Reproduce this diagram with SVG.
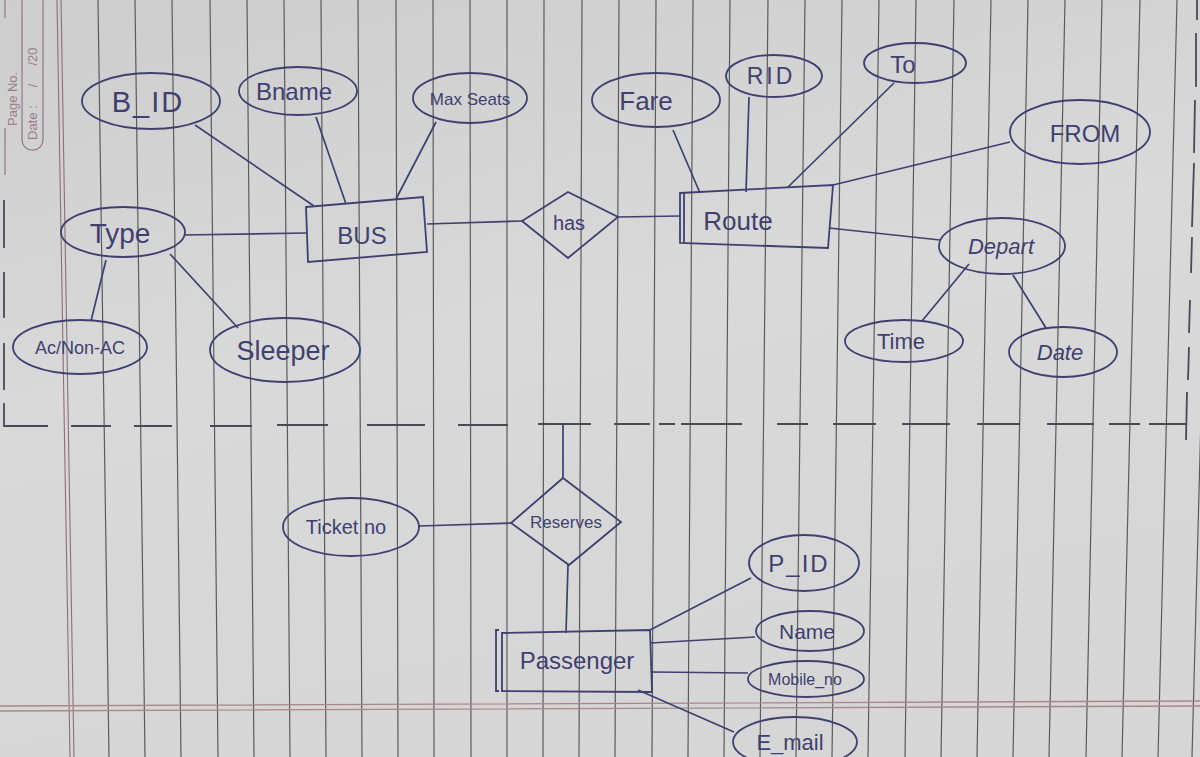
<svg xmlns="http://www.w3.org/2000/svg" width="1200" height="757" viewBox="0 0 1200 757">
<defs>
<linearGradient id="paper" x1="0" y1="0" x2="0.3" y2="1">
<stop offset="0" stop-color="#cdcdcd"/>
<stop offset="0.5" stop-color="#d9d9d9"/>
<stop offset="1" stop-color="#d6d6d6"/>
</linearGradient>
<style>
.rule{stroke:#5b5b5f;stroke-width:1.2;fill:none}
.margin{stroke:#8a7078;stroke-width:1.1;fill:none}
.pink{stroke:#a8868e;stroke-width:1.3;fill:none}
.dash{stroke:#4a4a55;stroke-width:1.8;fill:none}
.ink{stroke:#3f4070;stroke-width:1.7;fill:none}
.shape{stroke:#3f4070;stroke-width:1.8;fill:none}
.t{font-family:"Liberation Sans","DejaVu Sans",sans-serif;fill:#3f4070;text-anchor:middle}
.hdr{font-family:"Liberation Sans","DejaVu Sans",sans-serif;fill:#9a7f8a;font-size:13px}
</style>
</defs>
<rect x="0" y="0" width="1200" height="757" fill="url(#paper)"/>
<g id="paper-lines">
<path class="rule" d="M98,0 L109,757 M135,0 L145,757 M172,0 L181,757 M210,0 L218,757 M247,0 L254,757 M284,0 L290,757 M321,0 L326,757 M358,0 L362,757 M396,0 L398,757 M433,0 L434,757 M470,0 L471,757 M507,0 L507,757 M544,0 L543,757 M582,0 L579,757 M619,0 L615,757 M656,0 L652,757 M693,0 L688,757 M730,0 L724,757 M768,0 L760,757 M805,0 L796,757 M842,0 L832,757 M879,0 L868,757 M916,0 L905,757 M954,0 L941,757 M991,0 L977,757 M1028,0 L1013,757 M1065,0 L1049,757 M1102,0 L1086,757 M1140,0 L1122,757 M1177,0 L1158,757 M1212,0 L1192,757"/>
<path class="margin" d="M57,0 L70,757 M61,0 L74,757"/>
<path class="pink" d="M0,706 L1200,701 M0,711 L1200,706"/>
</g>
<g id="page-header">
<path class="margin" d="M5,0 L5,18 M5,128 L5,175"/>
<text class="hdr" transform="translate(17,126) rotate(-90)">Page No.</text>
<rect x="22" y="-10" width="21" height="160" rx="10" class="margin"/>
<text class="hdr" transform="translate(37,140) rotate(-90)" xml:space="preserve">Date :     /     /20</text>
</g>
<g id="dashed-boundary">
<path class="dash" d="M4,200 L4,248 M4,272 L4,318 M4,343 L4,390 M4,403 L4,426 L48,426 M71,426 L111,426 M134,426 L172,426 M210,426 L252,426 M277,425 L328,425 M367,425 L425,425 M458,425 L508,425 M538,424 L591,424 M614,424 L650,424 M659,424 L675,424 M681,424 L742,424 M777,424 L808,424 M833,424 L876,424 M902,424 L950,424 M977,424 L1020,424 M1047,424 L1094,424 M1109,424 L1140,424 M1149,424 L1186,424 M1197,0 L1197,20 M1196,33 L1196,87 M1195,100 L1194,153 M1194,163 L1192,227 M1192,237 L1191,273 M1190,300 L1189,333 M1189,347 L1188,380 M1187,392 L1186,440"/>
</g>
<g id="connectors">
<path class="ink" d="M195,125 L314,206"/>
<path class="ink" d="M316,117 L346,204"/>
<path class="ink" d="M436,122 L396,199"/>
<path class="ink" d="M184,235 L306,233"/>
<path class="ink" d="M106,260 L91,321"/>
<path class="ink" d="M170,254 L238,328"/>
<path class="ink" d="M427,224 L522,221"/>
<path class="ink" d="M618,217 L680,216"/>
<path class="ink" d="M673,130 L700,193"/>
<path class="ink" d="M749,97 L746,192"/>
<path class="ink" d="M894,83 L788,187"/>
<path class="ink" d="M1010,142 L833,185"/>
<path class="ink" d="M829,228 L940,240"/>
<path class="ink" d="M969,264 L922,321"/>
<path class="ink" d="M1013,275 L1046,328"/>
<path class="ink" d="M563,423 L563,478"/>
<path class="ink" d="M419,526 L511,523"/>
<path class="ink" d="M568,565 L566,633"/>
<path class="ink" d="M650,630 L751,578"/>
<path class="ink" d="M650,643 L755,637"/>
<path class="ink" d="M652,672 L748,673"/>
<path class="ink" d="M638,690 L734,732"/>
</g>
<g id="BUS">
<polygon class="shape" points="306,207 423,197 427,252 308,262"/>
<text class="t" x="362" y="244" font-size="24">BUS</text>
</g>
<g id="B_ID">
<ellipse class="shape" cx="151" cy="101" rx="69" ry="28"/>
<text class="t" x="148" y="112" font-size="29" letter-spacing="2">B_ID</text>
</g>
<g id="Bname">
<ellipse class="shape" cx="298" cy="91" rx="59" ry="24"/>
<text class="t" x="294" y="100" font-size="24">Bname</text>
</g>
<g id="MaxSeats">
<ellipse class="shape" cx="470" cy="98" rx="57" ry="25"/>
<text class="t" x="470" y="105" font-size="17">Max Seats</text>
</g>
<g id="Type">
<ellipse class="shape" cx="123" cy="232" rx="62" ry="25"/>
<text class="t" x="120" y="243" font-size="28">Type</text>
</g>
<g id="AcNonAC">
<ellipse class="shape" cx="80" cy="347" rx="67" ry="27"/>
<text class="t" x="80" y="354" font-size="18">Ac/Non-AC</text>
</g>
<g id="Sleeper">
<ellipse class="shape" cx="285" cy="350" rx="75" ry="32"/>
<text class="t" x="283" y="360" font-size="27">Sleeper</text>
</g>
<g id="has">
<polygon class="shape" points="522,221 568,192 618,217 568,258"/>
<text class="t" x="569" y="230" font-size="20">has</text>
</g>
<g id="Route">
<polygon class="shape" points="680,193 833,185 828,248 680,243"/>
<path class="shape" d="M684,193 L684,243"/>
<text class="t" x="738" y="230" font-size="26">Route</text>
</g>
<g id="Fare">
<ellipse class="shape" cx="656" cy="100" rx="64" ry="27"/>
<text class="t" x="646" y="110" font-size="26">Fare</text>
</g>
<g id="RID">
<ellipse class="shape" cx="774" cy="76" rx="48" ry="21"/>
<text class="t" x="771" y="84" font-size="23" letter-spacing="3">RID</text>
</g>
<g id="To">
<ellipse class="shape" cx="915" cy="63" rx="51" ry="20"/>
<text class="t" x="903" y="73" font-size="24">To</text>
</g>
<g id="FROM">
<ellipse class="shape" cx="1080" cy="132" rx="70" ry="32"/>
<text class="t" x="1085" y="142" font-size="24">FROM</text>
</g>
<g id="Depart">
<ellipse class="shape" cx="1002" cy="246" rx="63" ry="28"/>
<text class="t" x="1001" y="254" font-size="22" font-style="italic">Depart</text>
</g>
<g id="Time">
<ellipse class="shape" cx="904" cy="341" rx="59" ry="21"/>
<text class="t" x="901" y="349" font-size="22">Time</text>
</g>
<g id="Date">
<ellipse class="shape" cx="1063" cy="352" rx="54" ry="25"/>
<text class="t" x="1060" y="360" font-size="22" font-style="italic">Date</text>
</g>
<g id="Reserves">
<polygon class="shape" points="511,523 563,478 621,522 569,565"/>
<text class="t" x="566" y="528" font-size="17">Reserves</text>
</g>
<g id="TicketNo">
<ellipse class="shape" cx="351" cy="527" rx="68" ry="29"/>
<text class="t" x="346" y="534" font-size="20">Ticket no</text>
</g>
<g id="Passenger">
<polygon class="shape" points="502,633 650,630 652,692 502,691"/>
<path class="shape" d="M499,630 L496,630 L496,691 L499,691"/>
<text class="t" x="577" y="669" font-size="24">Passenger</text>
</g>
<g id="P_ID">
<ellipse class="shape" cx="804" cy="563" rx="55" ry="28"/>
<text class="t" x="799" y="572" font-size="24" letter-spacing="2">P_ID</text>
</g>
<g id="Name">
<ellipse class="shape" cx="810" cy="631" rx="54" ry="20"/>
<text class="t" x="807" y="639" font-size="21">Name</text>
</g>
<g id="Mobile_no">
<ellipse class="shape" cx="806" cy="679" rx="58" ry="18"/>
<text class="t" x="805" y="685" font-size="16">Mobile_no</text>
</g>
<g id="E_mail">
<ellipse class="shape" cx="795" cy="742" rx="62" ry="25"/>
<text class="t" x="790" y="750" font-size="22">E_mail</text>
</g>
</svg>
